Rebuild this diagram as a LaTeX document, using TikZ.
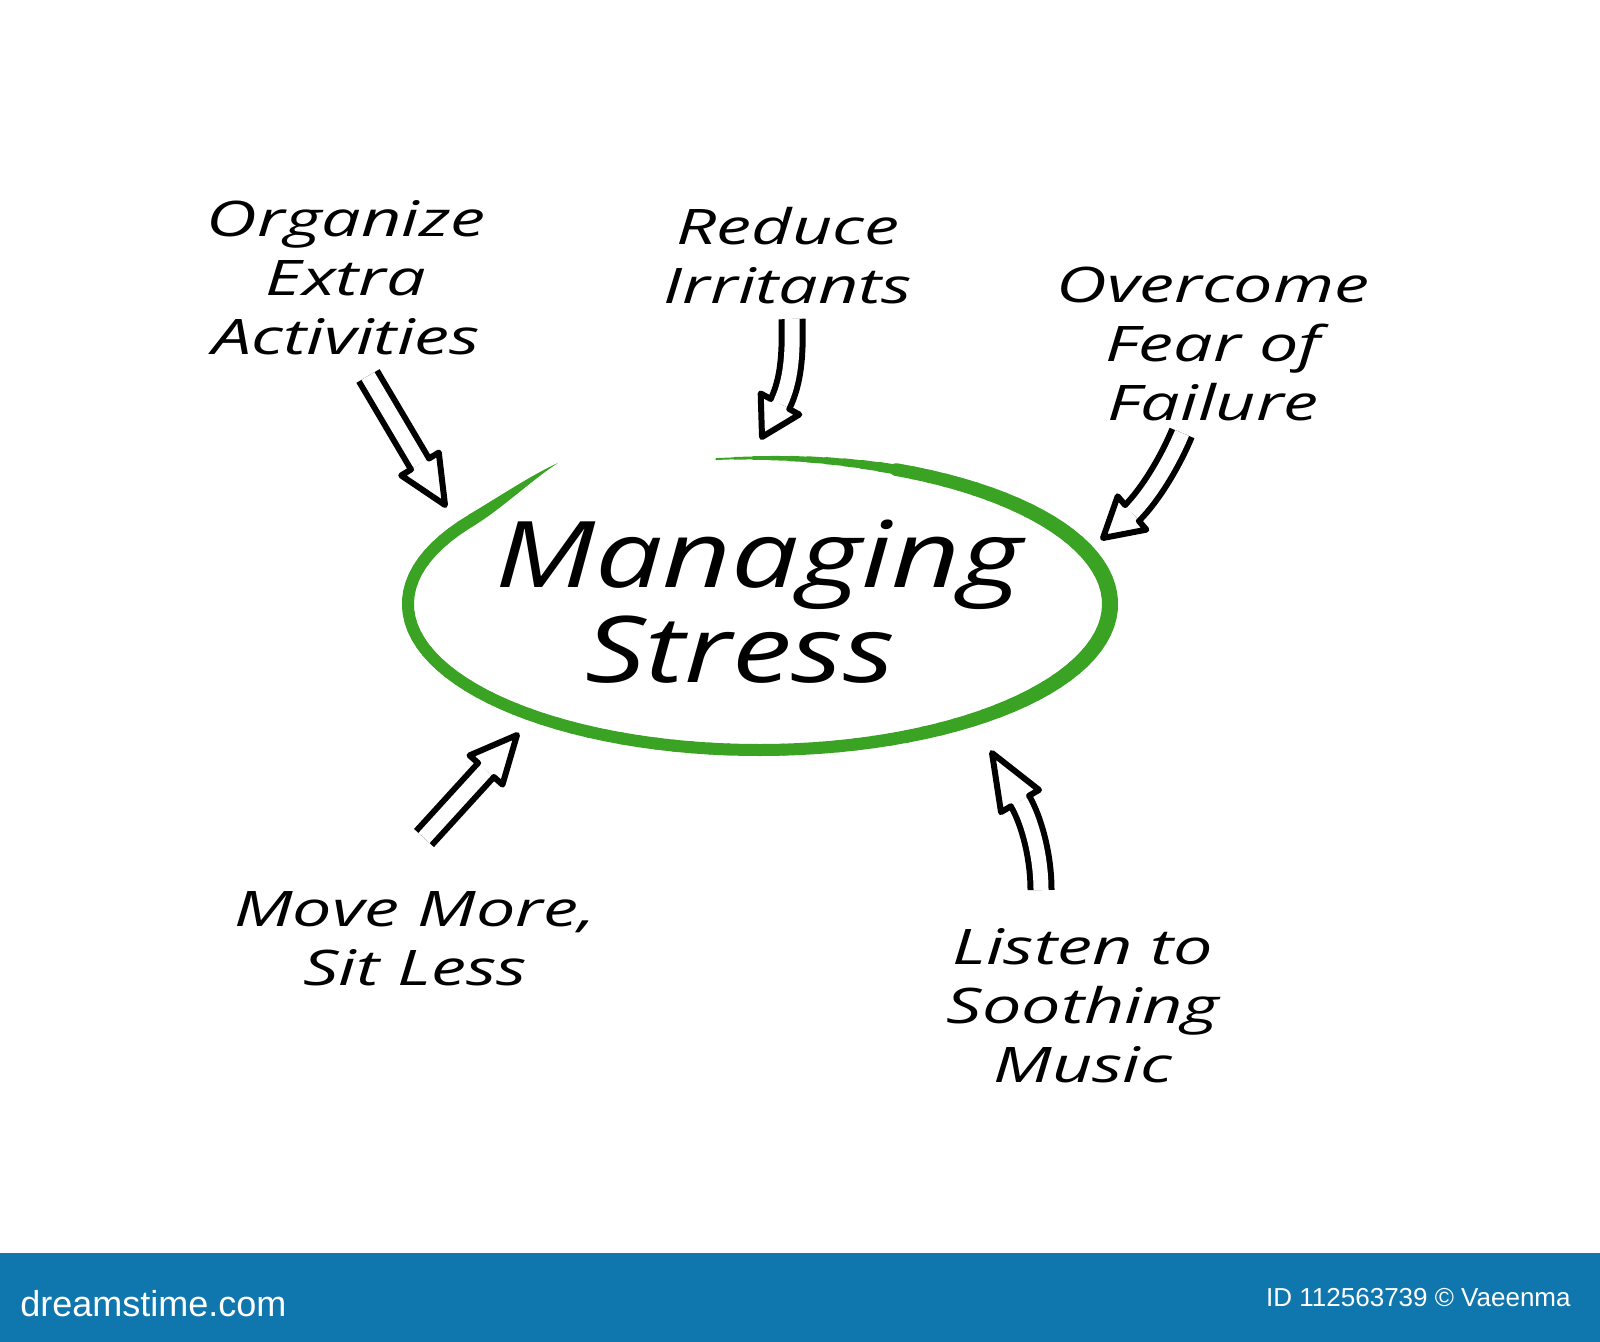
\documentclass[tikz,border=0pt]{standalone}
\usepackage{fontspec}
\newfontfamily\handfont{Open Sans}[FakeStretch=1.43]
\newfontfamily\titlefont{Open Sans}[FakeStretch=1.3]
\newfontfamily\barfont{Liberation Sans}
\usetikzlibrary{calc}
\definecolor{ringgreen}{RGB}{58,163,35}
\definecolor{barblue}{RGB}{16,119,174}

\begin{document}
\begin{tikzpicture}[x=0.5pt,y=-0.5pt,
	itemtext/.style={font=\handfont\itshape\fontsize{24.5}{29.5}\selectfont, align=center, anchor=base, inner sep=0pt},
	titletext/.style={font=\titlefont\itshape\fontsize{46}{50}\selectfont, anchor=base, inner sep=0pt},
	shaft/.style={double=white, double distance=7.5pt, line width=3pt, line cap=butt},
	head/.style={line width=3pt, fill=white, line join=round, line cap=round},
	ring/.style={ringgreen, line cap=round}]
	
	\useasboundingbox (0,0) rectangle (1600,1342);
	\fill[white] (0,0) rectangle (1600,1342);
	
	% Open arrow head: neck (#1), tip (#2)
	\newcommand{\hollowhead}[2]{%
		\filldraw[head] ($(#1)!5.25pt!90:(#2)$) -- ($(#1)!11pt!90:(#2)$) -- (#2)
		-- ($(#1)!11pt!-90:(#2)$) -- ($(#1)!5.25pt!-90:(#2)$);
	}
	
	% Green ring: pointed tail at the top left ...
	\coordinate (ctr) at (759,604);
	\fill[ringgreen] (558,463) .. controls (531,475) and (494,500) .. (468.4,514.8)
	-- (474.6,525.2) .. controls (500,510) and (533,479) .. (558,463) -- cycle;
	% ... then round the ellipse, thick on the right, thin at the top
	\foreach \s in {215,212,...,-94} {
		\pgfmathsetmacro{\e}{max(\s-3,-97.2)}
		\pgfmathsetmacro{\w}{\s > -66 ? 12+4*max(0,cos(\s))^2 : 1+(\s+97.2)*0.29}
		\draw[ring, line width=\w*0.5pt] ($(ctr)+(\s:351 and 146)$)
		arc[start angle=\s, end angle=\e, x radius=351, y radius=146];
	}
	
	% Title
	\node[titletext] (managing) at (759,587) {Managing};
	\node[titletext] (stress) at (740,682) {Stress};
	
	% Labels round the ring
	\node[itemtext] (organize) at (346,355) {Organize\\Extra\\Activities};
	\node[itemtext] (reduce) at (788,304) {Reduce\\Irritants};
	\node[itemtext] (overcome) at (1213,421) {Overcome\\Fear of\\Failure};
	\node[itemtext] (move) at (415,985) {Move More,\\Sit Less};
	\node[itemtext] (listen) at (1083,1082) {Listen to\\Soothing\\Music};
	
	% Arrow ends
	\coordinate (orgTail) at (368,376);
	\coordinate (orgNeck) at (420,464);
	\coordinate (orgTip) at (445,505);
	\coordinate (redTail) at (792,319);
	\coordinate (redNeck) at (780,404);
	\coordinate (redTip) at (762,437);
	\coordinate (ovcTail) at (1182,433);
	\coordinate (ovcNeck) at (1132,513);
	\coordinate (ovcTip) at (1103,538);
	\coordinate (movTail) at (424,838);
	\coordinate (movNeck) at (486,770);
	\coordinate (movTip) at (517,735);
	\coordinate (lisTail) at (1041,890);
	\coordinate (lisNeck) at (1020,801);
	\coordinate (lisTip) at (992,753);
	
	% Arrows towards the ring
	\draw[shaft] (orgTail) -- (orgNeck);
	\hollowhead{orgNeck}{orgTip}
	\draw[shaft] (redTail) .. controls (793,355) and (791,381) .. (redNeck);
	\hollowhead{redNeck}{redTip}
	\draw[shaft] (ovcTail) .. controls (1170,462) and (1150,495) .. (ovcNeck);
	\hollowhead{ovcNeck}{ovcTip}
	\draw[shaft] (movTail) -- (movNeck);
	\hollowhead{movNeck}{movTip}
	\draw[shaft] (lisTail) .. controls (1041,855) and (1031,820) .. (lisNeck);
	\hollowhead{lisNeck}{lisTip}
	
	% Credit bar
	\fill[barblue] (0,1253) rectangle (1600,1342);
	\node[white, anchor=west, inner sep=0pt, font=\barfont\fontsize{18}{20}\selectfont] (site) at (20,1304) {dreamstime.com};
	\node[white, anchor=east, inner sep=0pt, font=\barfont\fontsize{13}{15}\selectfont] (credit) at (1571,1298) {ID 112563739 © Vaeenma};
	
\end{tikzpicture}
\end{document}
